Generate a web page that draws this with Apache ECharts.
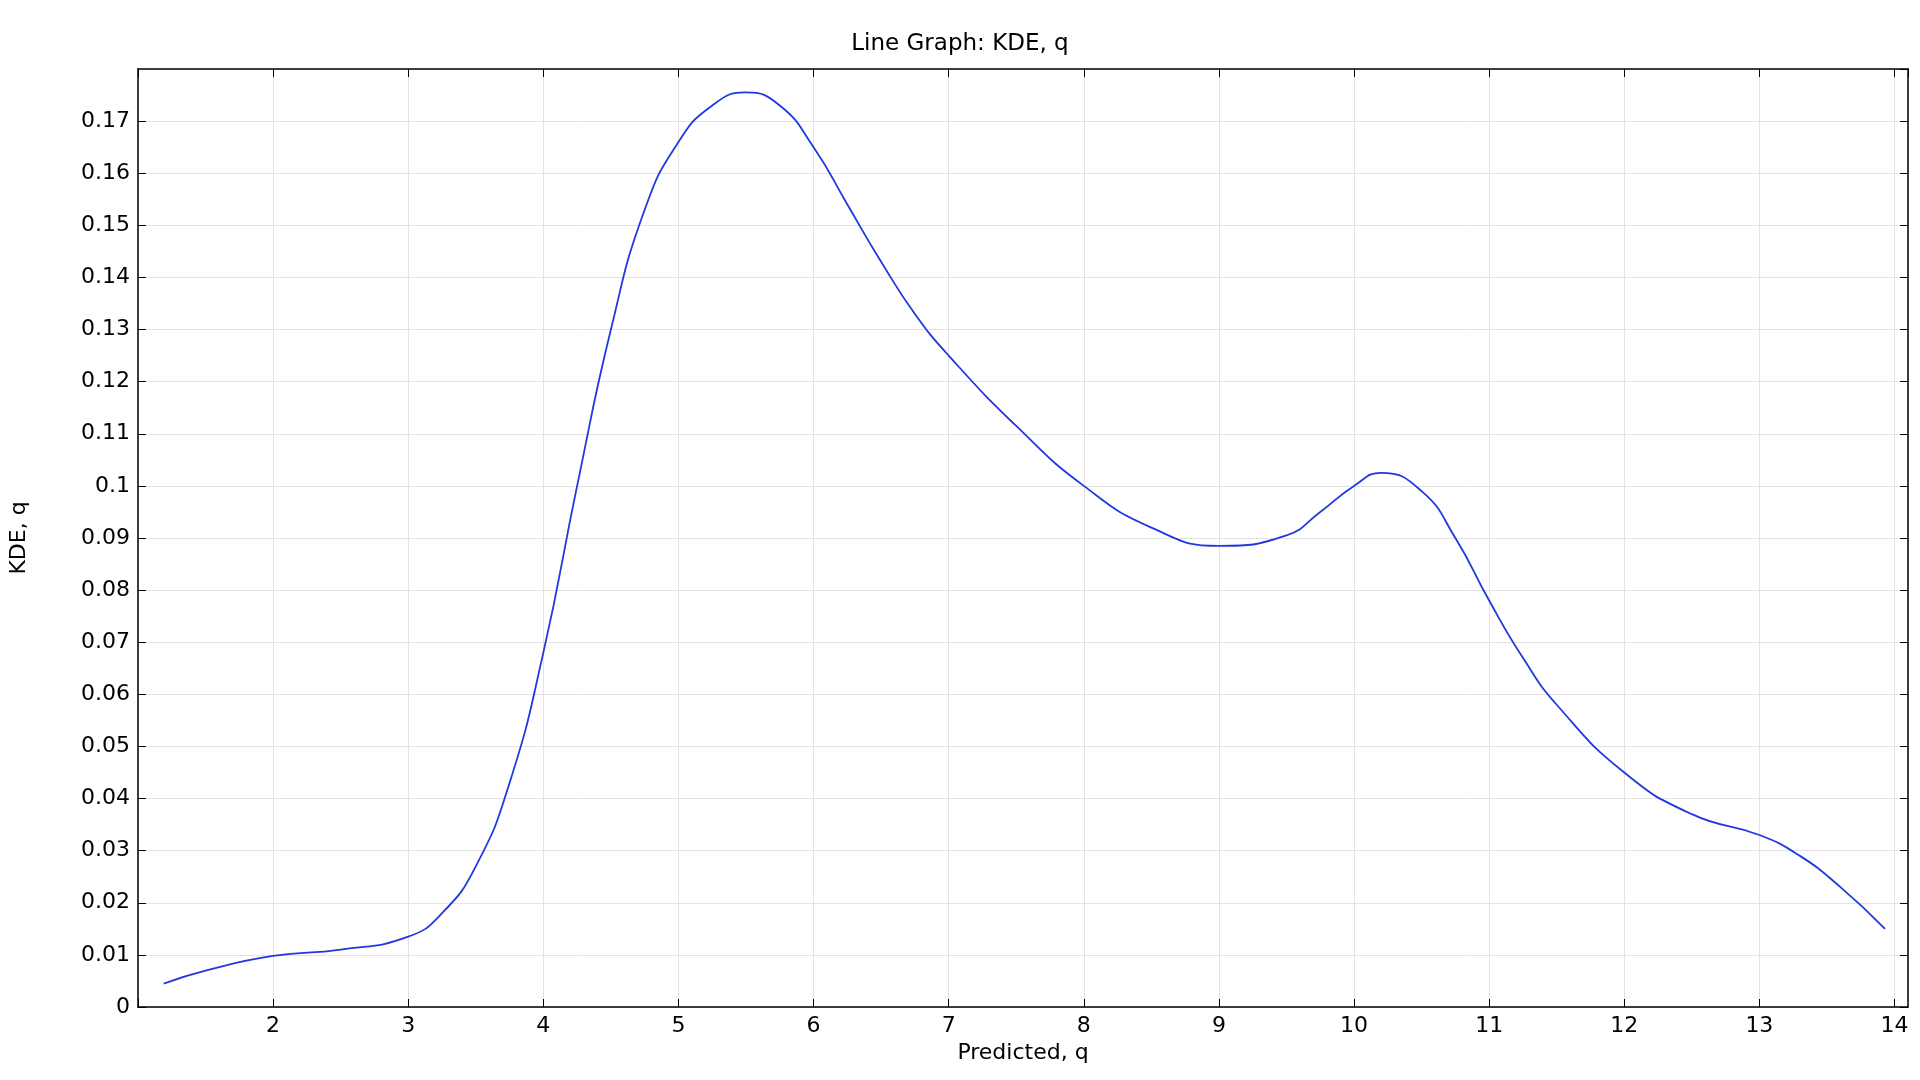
<!DOCTYPE html>
<html>
<head>
<meta charset="UTF-8" />
<script src="https://cdn.jsdelivr.net/npm/echarts@6/dist/echarts.min.js"></script>
<style>
  html, body { margin: 0; padding: 0; background: #fff; }
  #main { width: 1920px; height: 1080px; }
</style>
</head>
<body>
<div id="main"></div>
<script>
const xValues = [1.19, 1.5, 2, 2.5, 3, 3.25, 3.5, 3.75, 4, 4.25, 4.5, 4.75, 5, 5.25, 5.5, 5.75, 6, 6.25, 6.5, 6.75, 7, 7.5, 8, 8.5, 9, 9.5, 9.75, 10, 10.2, 10.5, 10.75, 11, 11.25, 11.5, 12, 12.5, 13, 13.3, 13.6, 13.93];
const kdeValues = [0.0045, 0.007, 0.0098, 0.011, 0.0135, 0.018, 0.027, 0.043, 0.068, 0.1, 0.13, 0.153, 0.166, 0.173, 0.1755, 0.173, 0.165, 0.154, 0.143, 0.133, 0.125, 0.1115, 0.1, 0.092, 0.0885, 0.0905, 0.095, 0.1, 0.1025, 0.099, 0.09, 0.078, 0.067, 0.058, 0.045, 0.037, 0.033, 0.029, 0.023, 0.015];

const chart = echarts.init(document.getElementById('main'));
const font = 'DejaVu Sans';
const axisLine = { show: true, onZero: false, lineStyle: { color: '#000', width: 1.5 } };
const tick = { show: true, inside: true, length: 8, lineStyle: { color: '#000' } };

chart.setOption({
  animation: false,
  title: {
    text: 'Line Graph: KDE, q', left: 'center', top: 28,
    textStyle: { fontFamily: font, fontWeight: 'normal', fontSize: 23, color: '#000' }
  },
  grid: { left: 134, right: 12, top: 69, bottom: 73 },
  xAxis: [{
    type: 'value', min: 1, max: 14.1, interval: 1,
    name: 'Predicted, q', nameLocation: 'middle', nameGap: 30,
    nameTextStyle: { fontFamily: font, fontSize: 22, color: '#000' },
    axisLine, axisTick: tick,
    axisLabel: { fontFamily: font, fontSize: 22, color: '#000', showMaxLabel: false,
      formatter: v => v === 1 ? '' : v },
    splitLine: { show: true, lineStyle: { color: '#e3e3e3' } }
  }, {
    type: 'value', position: 'top', min: 1, max: 14.1, interval: 1,
    axisLine, axisTick: tick, axisLabel: { show: false }, splitLine: { show: false }
  }],
  yAxis: [{
    type: 'value', min: 0, max: 0.18, interval: 0.01,
    name: 'KDE, q', nameLocation: 'middle', nameGap: 108,
    nameTextStyle: { fontFamily: font, fontSize: 22, color: '#000' },
    axisLine, axisTick: tick,
    axisLabel: { fontFamily: font, fontSize: 22, color: '#000', showMaxLabel: false,
      formatter: v => String(+v.toFixed(2)) },
    splitLine: { show: true, lineStyle: { color: '#e3e3e3' } }
  }, {
    type: 'value', position: 'right', min: 0, max: 0.18, interval: 0.01,
    axisLine, axisTick: tick, axisLabel: { show: false }, splitLine: { show: false }
  }],
  series: [{
    type: 'line', smooth: 0.5, showSymbol: false,
    lineStyle: { color: '#2038e0', width: 1.8 },
    data: xValues.map((x, i) => [x, kdeValues[i]])
  }]
});
</script>
</body>
</html>
